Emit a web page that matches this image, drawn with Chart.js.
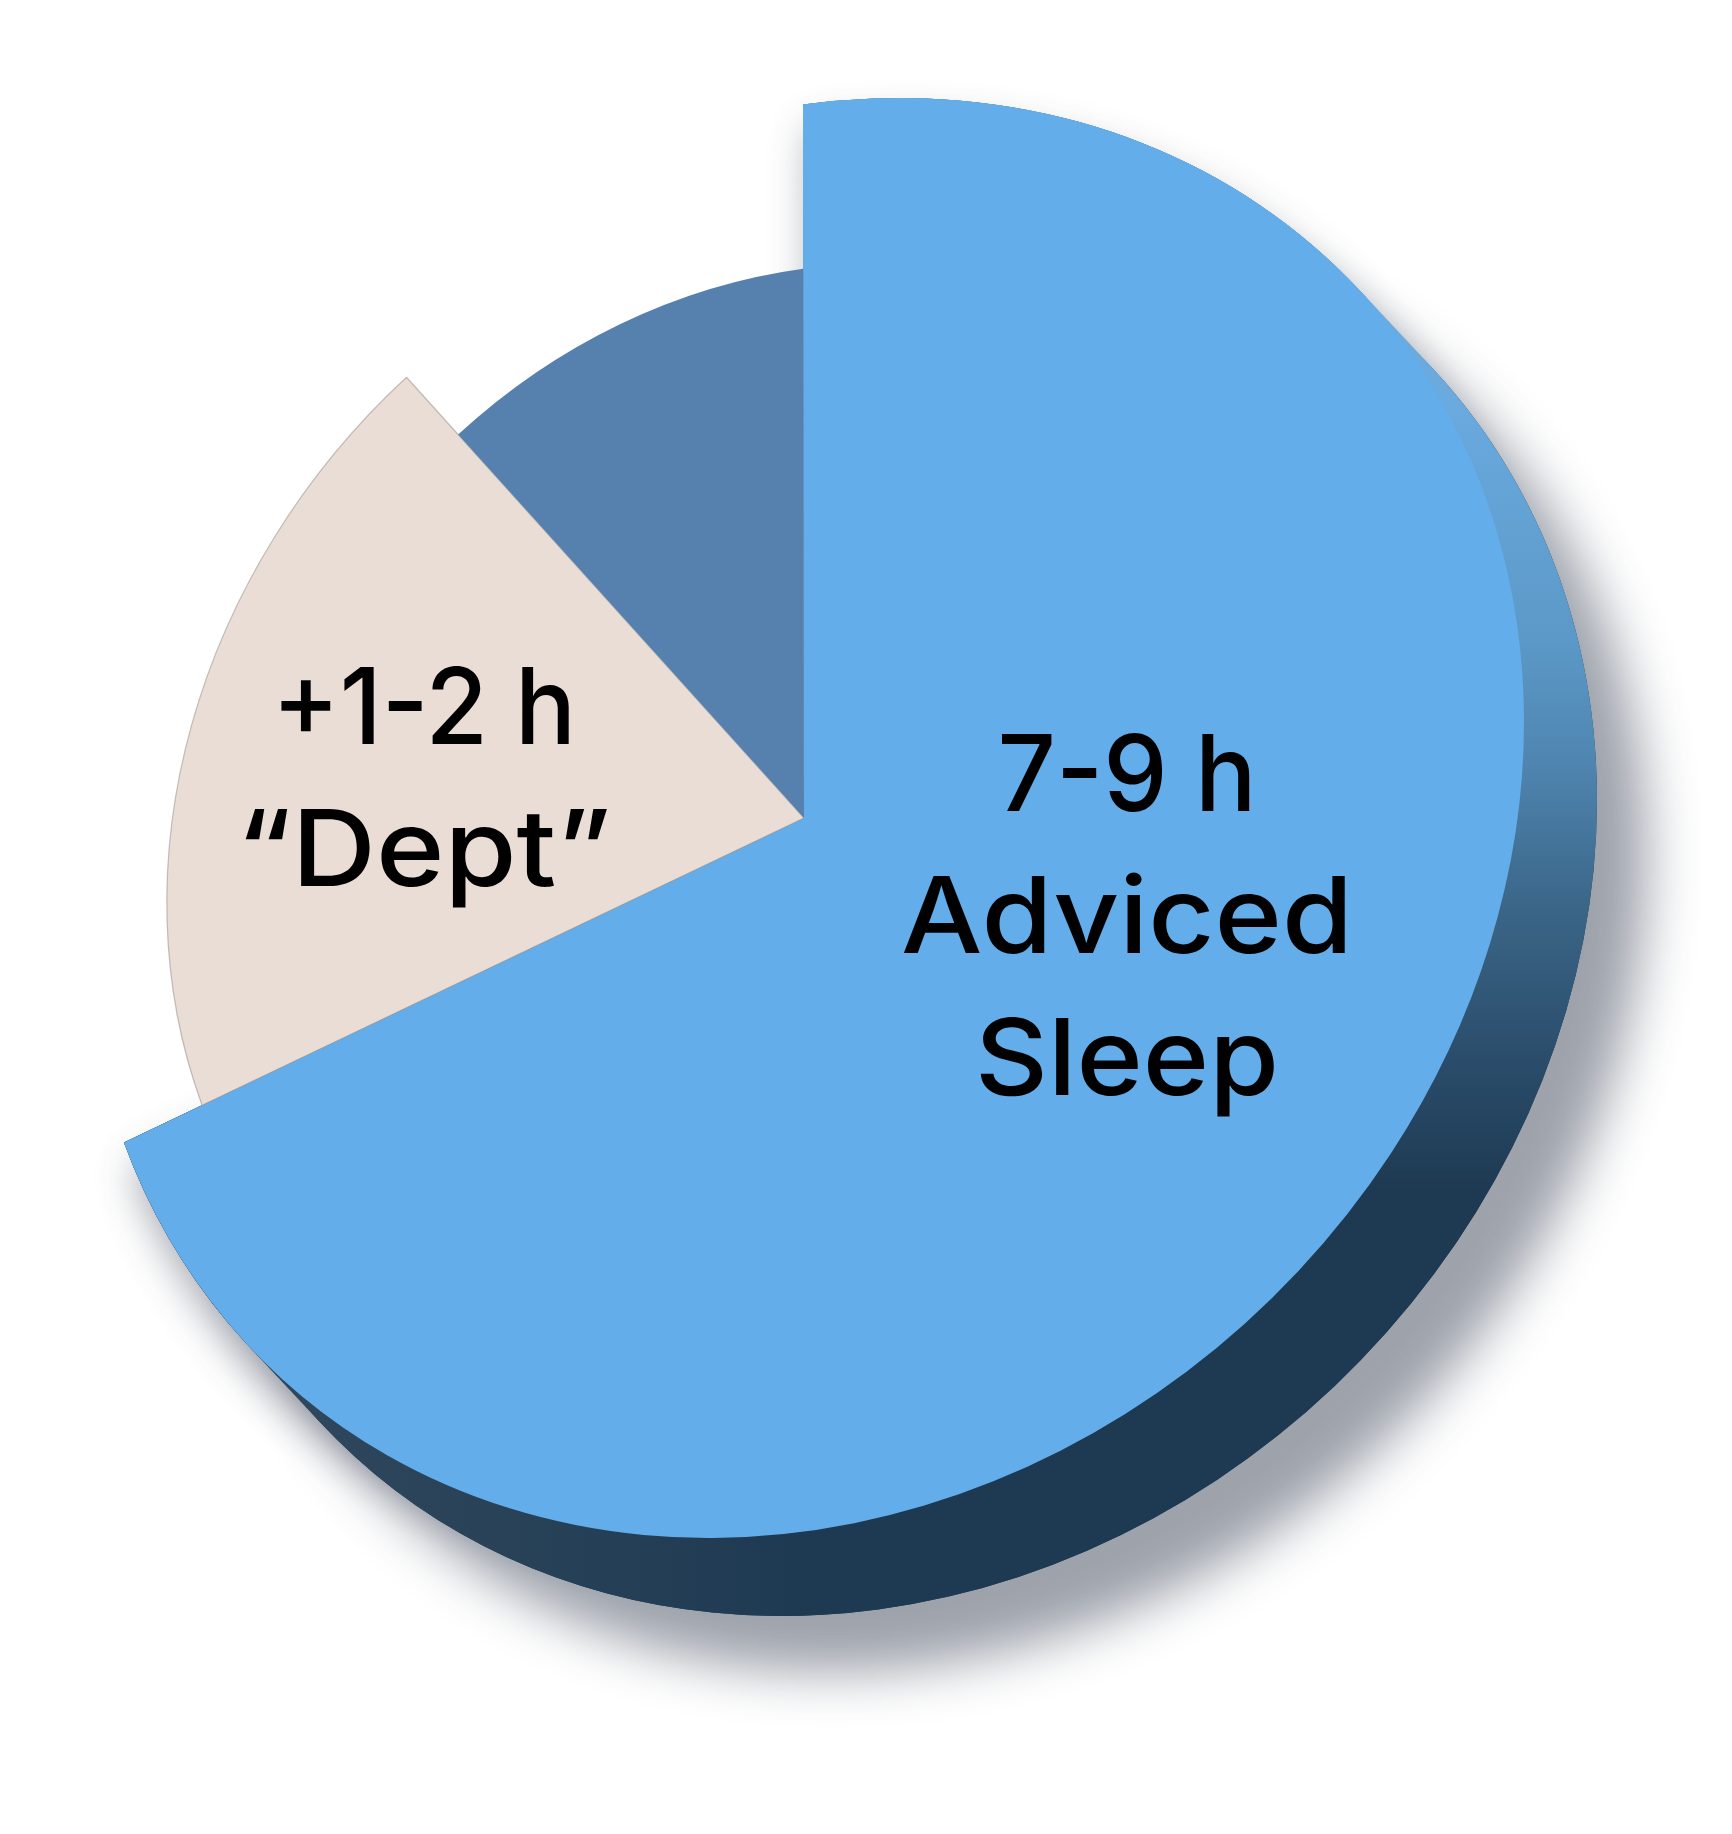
<!DOCTYPE html>
<html><head><meta charset="utf-8">
<style>html,body{margin:0;padding:0;background:#fff}canvas{display:block}</style>
<script src="https://cdn.jsdelivr.net/npm/chart.js@4"></script>
</head><body>
<canvas id="c" width="1732" height="1834"></canvas>
<script>
const categories = ["7-9 h Adviced Sleep", "+1-2 h “Dept”", "Remainder"];
const values = [69.7, 19.6, 10.7];
const sliceColors = ["#63aeea", "#e9ddd5", "#5680ad"];
const radiusFactors = [1, 0.885, 0.77];
const labelLines = [["7-9 h", "Adviced", "Sleep"], ["+1-2 h", "“Dept”"]];

const CX = 804, CY = 818, R = 700;
const SEMI_A = 767 / R, SEMI_B = 671 / R;   // tilt of the disc: ellipse axes along NE-SW / NW-SE
const DX = 73, DY = 78;                     // depth of the extruded side
const m11 = (SEMI_A + SEMI_B) / 2, m12 = (SEMI_B - SEMI_A) / 2;
const tiltMatrix = (dx, dy) => new DOMMatrix([m11, m12, m12, m11,
  CX + dx - (m11 * CX + m12 * CY), CY + dy - (m12 * CX + m11 * CY)]);

const shape = {
  id: 'shape',
  afterDatasetUpdate(chart) {
    chart.getDatasetMeta(0).data.forEach((el, i) => { el.outerRadius = el.outerRadius * radiusFactors[i]; });
  },
  beforeDatasetsDraw(chart) {
    const ctx = chart.ctx, el = chart.getDatasetMeta(0).data[0];
    const sector = new Path2D();
    sector.moveTo(el.x, el.y);
    sector.arc(el.x, el.y, el.outerRadius, el.startAngle, el.endAngle);
    sector.closePath();
    const sweep = new Path2D();
    const steps = 60;
    for (let k = 0; k <= steps; k++) sweep.addPath(sector, tiltMatrix(DX * k / steps, DY * k / steps));
    const disc = new Path2D(); disc.addPath(sector, tiltMatrix(0, 0));
    const far = new Path2D(); far.addPath(sector, tiltMatrix(DX, DY));

    // soft shadows
    ctx.save();
    ctx.fillStyle = '#223c55';
    ctx.shadowColor = 'rgba(50,60,80,0.45)';
    ctx.shadowBlur = 40;
    ctx.shadowOffsetX = 8; ctx.shadowOffsetY = 26;
    ctx.fill(disc);
    ctx.shadowColor = 'rgba(50,60,80,0.48)';
    ctx.shadowBlur = 52;
    ctx.shadowOffsetX = 50; ctx.shadowOffsetY = 56;
    ctx.fill(far);
    ctx.restore();

    // extruded side
    const g = ctx.createLinearGradient(0, 400, 0, 1190);
    g.addColorStop(0, '#6aaadf');
    g.addColorStop(0.3, '#5c99c8');
    g.addColorStop(0.46, '#4f85b0');
    g.addColorStop(0.64, '#3b6688');
    g.addColorStop(0.84, '#2a4c6a');
    g.addColorStop(1, '#1e3a52');
    ctx.fillStyle = g;
    ctx.fill(sweep);
    const h = ctx.createLinearGradient(800, 0, 300, 0);
    h.addColorStop(0, 'rgba(80,95,110,0)');
    h.addColorStop(1, 'rgba(80,95,110,0.35)');
    ctx.fillStyle = h;
    ctx.fill(sweep);

    ctx.save();
    ctx.transform(m11, m12, m12, m11, CX - (m11 * CX + m12 * CY), CY - (m12 * CX + m11 * CY));
  },
  afterDatasetsDraw(chart) {
    const ctx = chart.ctx;
    ctx.restore();
    ctx.save();
    ctx.fillStyle = '#000';
    ctx.textAlign = 'center';
    ctx.textBaseline = 'alphabetic';
    ctx.font = '500 106px Inter';
    const pos = [[1127, 811, 142, [259, 452, 304]], [424, 744, 142, [304, 375]]];
    labelLines.forEach((lines, i) => lines.forEach((t, j) => {
      const sx = pos[i][3][j] / ctx.measureText(t).width;
      ctx.save();
      ctx.translate(pos[i][0], pos[i][1] + j * pos[i][2]);
      ctx.scale(sx, 1);
      ctx.fillText(t, 0, 0);
      ctx.restore();
    }));
    ctx.restore();
  }
};

new Chart(document.getElementById('c'), {
  type: 'pie',
  data: { labels: categories, datasets: [{
    data: values, backgroundColor: sliceColors,
    borderWidth: [0, 1.2, 0], borderColor: 'rgba(150,145,140,0.55)'
  }]},
  options: {
    responsive: false, animation: false, rotation: -3.9,
    layout: { padding: { left: CX - R, right: 1732 - CX - R, top: CY - R, bottom: 1834 - CY - R } },
    plugins: { legend: { display: false }, tooltip: { enabled: false } }
  },
  plugins: [shape]
});
</script>
</body></html>
